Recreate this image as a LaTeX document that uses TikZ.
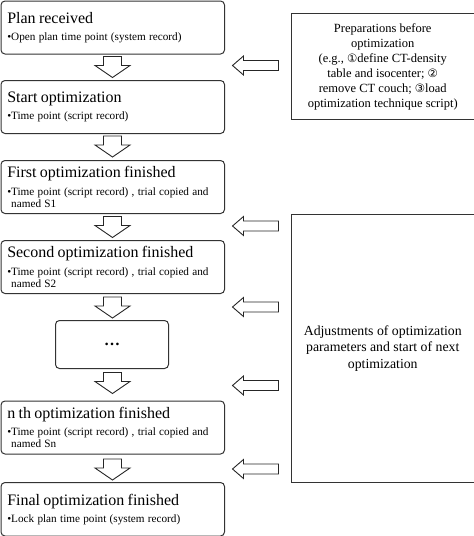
\documentclass[tikz,border=0pt]{standalone}
\usepackage{fontspec}
\setmainfont{Liberation Serif}
\newfontfamily\circfont{DejaVu Sans}
\usepackage{tikz}

\tikzset{
  stepbox/.style={draw=black!80,line width=1pt,rounded corners=4pt,anchor=north west,
    minimum width=223.5pt,minimum height=53pt,text width=211pt,inner xsep=6pt,inner ysep=2pt,align=left},
  sidebox/.style={draw=black!80,line width=1pt,anchor=north west,minimum width=182.5pt,align=center},
  dnarrow/.pic={\draw[black!85,line width=0.9pt,line join=miter]
    (-9,0) -- (9,0) -- (9,9) -- (17.5,9) -- (0,21) -- (-17.5,9) -- (-9,9) -- cycle;},
  lfarrow/.pic={\draw[black!85,line width=0.9pt,line join=miter]
    (0,0) -- (11,-9.5) -- (11,-5) -- (46,-5) -- (46,5) -- (11,5) -- (11,9.5) -- cycle;}
}
\newcommand{\ttl}[1]{{\fontsize{16}{18}\selectfont #1}}
\newcommand{\itm}[1]{{\fontsize{11.2}{12.6}\selectfont #1}}
\newcommand{\cnum}[1]{{\circfont\fontsize{11.5}{12}\selectfont #1}}

\begin{document}
\begin{tikzpicture}[x=1pt,y=-1pt]
\useasboundingbox (0,0) rectangle (474,536);

% flow of the optimization
\node[stepbox] (plan) at (0.5,0.5) {\ttl{Plan received}\\[5pt]
  \itm{\textbullet Open plan time point (system record)}};
\node[stepbox] (start) at (0.5,80) {\ttl{Start optimization}\\[5pt]
  \itm{\textbullet Time point (script record)}};
\node[stepbox] (first) at (0.5,160) {\ttl{First optimization finished}\\[5pt]
  \itm{\textbullet Time point (script record) , trial copied and\\\hspace*{4pt}named S1}};
\node[stepbox] (second) at (0.5,240) {\ttl{Second optimization finished}\\[5pt]
  \itm{\textbullet Time point (script record) , trial copied and\\\hspace*{4pt}named S2}};
\node[stepbox,minimum width=113pt,minimum height=48pt,text width=100pt,align=center] (dots) at (55,320) {\ttl{\textbf{\dots}}};
\node[stepbox] (nth) at (0.5,400.5) {\ttl{n th optimization finished}\\[5pt]
  \itm{\textbullet Time point (script record) , trial copied and\\\hspace*{4pt}named Sn}};
\node[stepbox,minimum height=53.5pt] (final) at (0.5,482) {\ttl{Final optimization finished}\\[5pt]
  \itm{\textbullet Lock plan time point (system record)}};

% side boxes
\node[sidebox,minimum height=106pt,font=\fontsize{12.5}{15}\selectfont] (prep) at (291,13) {Preparations before\\optimization\\(e.g., \cnum{①}define CT-density\\table and isocenter; \cnum{②}\\remove CT couch; \cnum{③}load\\optimization technique script)};
\node[sidebox,minimum height=268pt,font=\fontsize{13.8}{16.7}\selectfont] (adjust) at (291,214) {Adjustments of optimization\\parameters and start of next\\optimization};

% block arrows
\pic at (112.5,56.5) {dnarrow};
\pic at (112.5,136) {dnarrow};
\pic at (112.5,216.5) {dnarrow};
\pic at (112.5,297) {dnarrow};
\pic at (112.5,372.5) {dnarrow};
\pic at (112.5,459) {dnarrow};
\pic at (232.5,65.5) {lfarrow};
\pic at (232.5,226) {lfarrow};
\pic at (232.5,307) {lfarrow};
\pic at (232.5,385.5) {lfarrow};
\pic at (232.5,469) {lfarrow};
\end{tikzpicture}
\end{document}
